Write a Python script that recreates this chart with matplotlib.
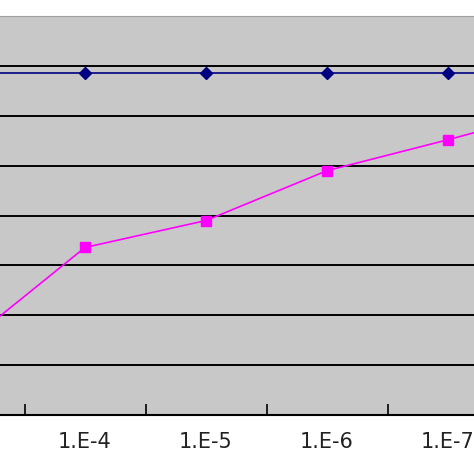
import numpy as np
import matplotlib.pyplot as plt

labels = ["1.E-3", "1.E-4", "1.E-5", "1.E-6", "1.E-7", "1.E-8"]
blue = [6.86, 6.86, 6.86, 6.86, 6.86, 6.86]
pink = [1.4, 3.36, 3.9, 4.9, 5.52, 6.18]

x = np.arange(len(labels))

fig = plt.figure(figsize=(4.74, 4.74), dpi=100)
ax = fig.add_axes([0, 0.1245, 1, 0.8415])
ax.set_facecolor("#c8c8c8")

ax.plot(x, blue, color="#000080", lw=1.2, marker="D", ms=6, zorder=3)
ax.plot(x, pink, color="#ff00ff", lw=1.2, marker="s", ms=7, zorder=3)

ax.set_yticks(np.arange(1, 8))
ax.yaxis.grid(True, color="black", lw=1.4)
ax.tick_params(axis="y", left=False, labelleft=False)

ax.set_xticks(x[:-1] + 0.5)
ax.set_xticklabels([])
ax.tick_params(axis="x", which="major", direction="in", length=8, width=1.2)
ax.set_xticks(x, minor=True)
ax.set_xticklabels(labels, minor=True, fontsize=15, color="#222222")
ax.tick_params(axis="x", which="minor", length=0, pad=12)

# limits after ticks so they are not widened
ax.set_xlim(36 / 121, 510 / 121)
ax.set_ylim(0, 8)

for s in ["left", "right"]:
    ax.spines[s].set_visible(False)
ax.spines["top"].set_color("#a0a0a0")
ax.spines["bottom"].set_linewidth(1.5)
ax.set_axisbelow(True)

fig.savefig("out.png", dpi=100, facecolor="white")
